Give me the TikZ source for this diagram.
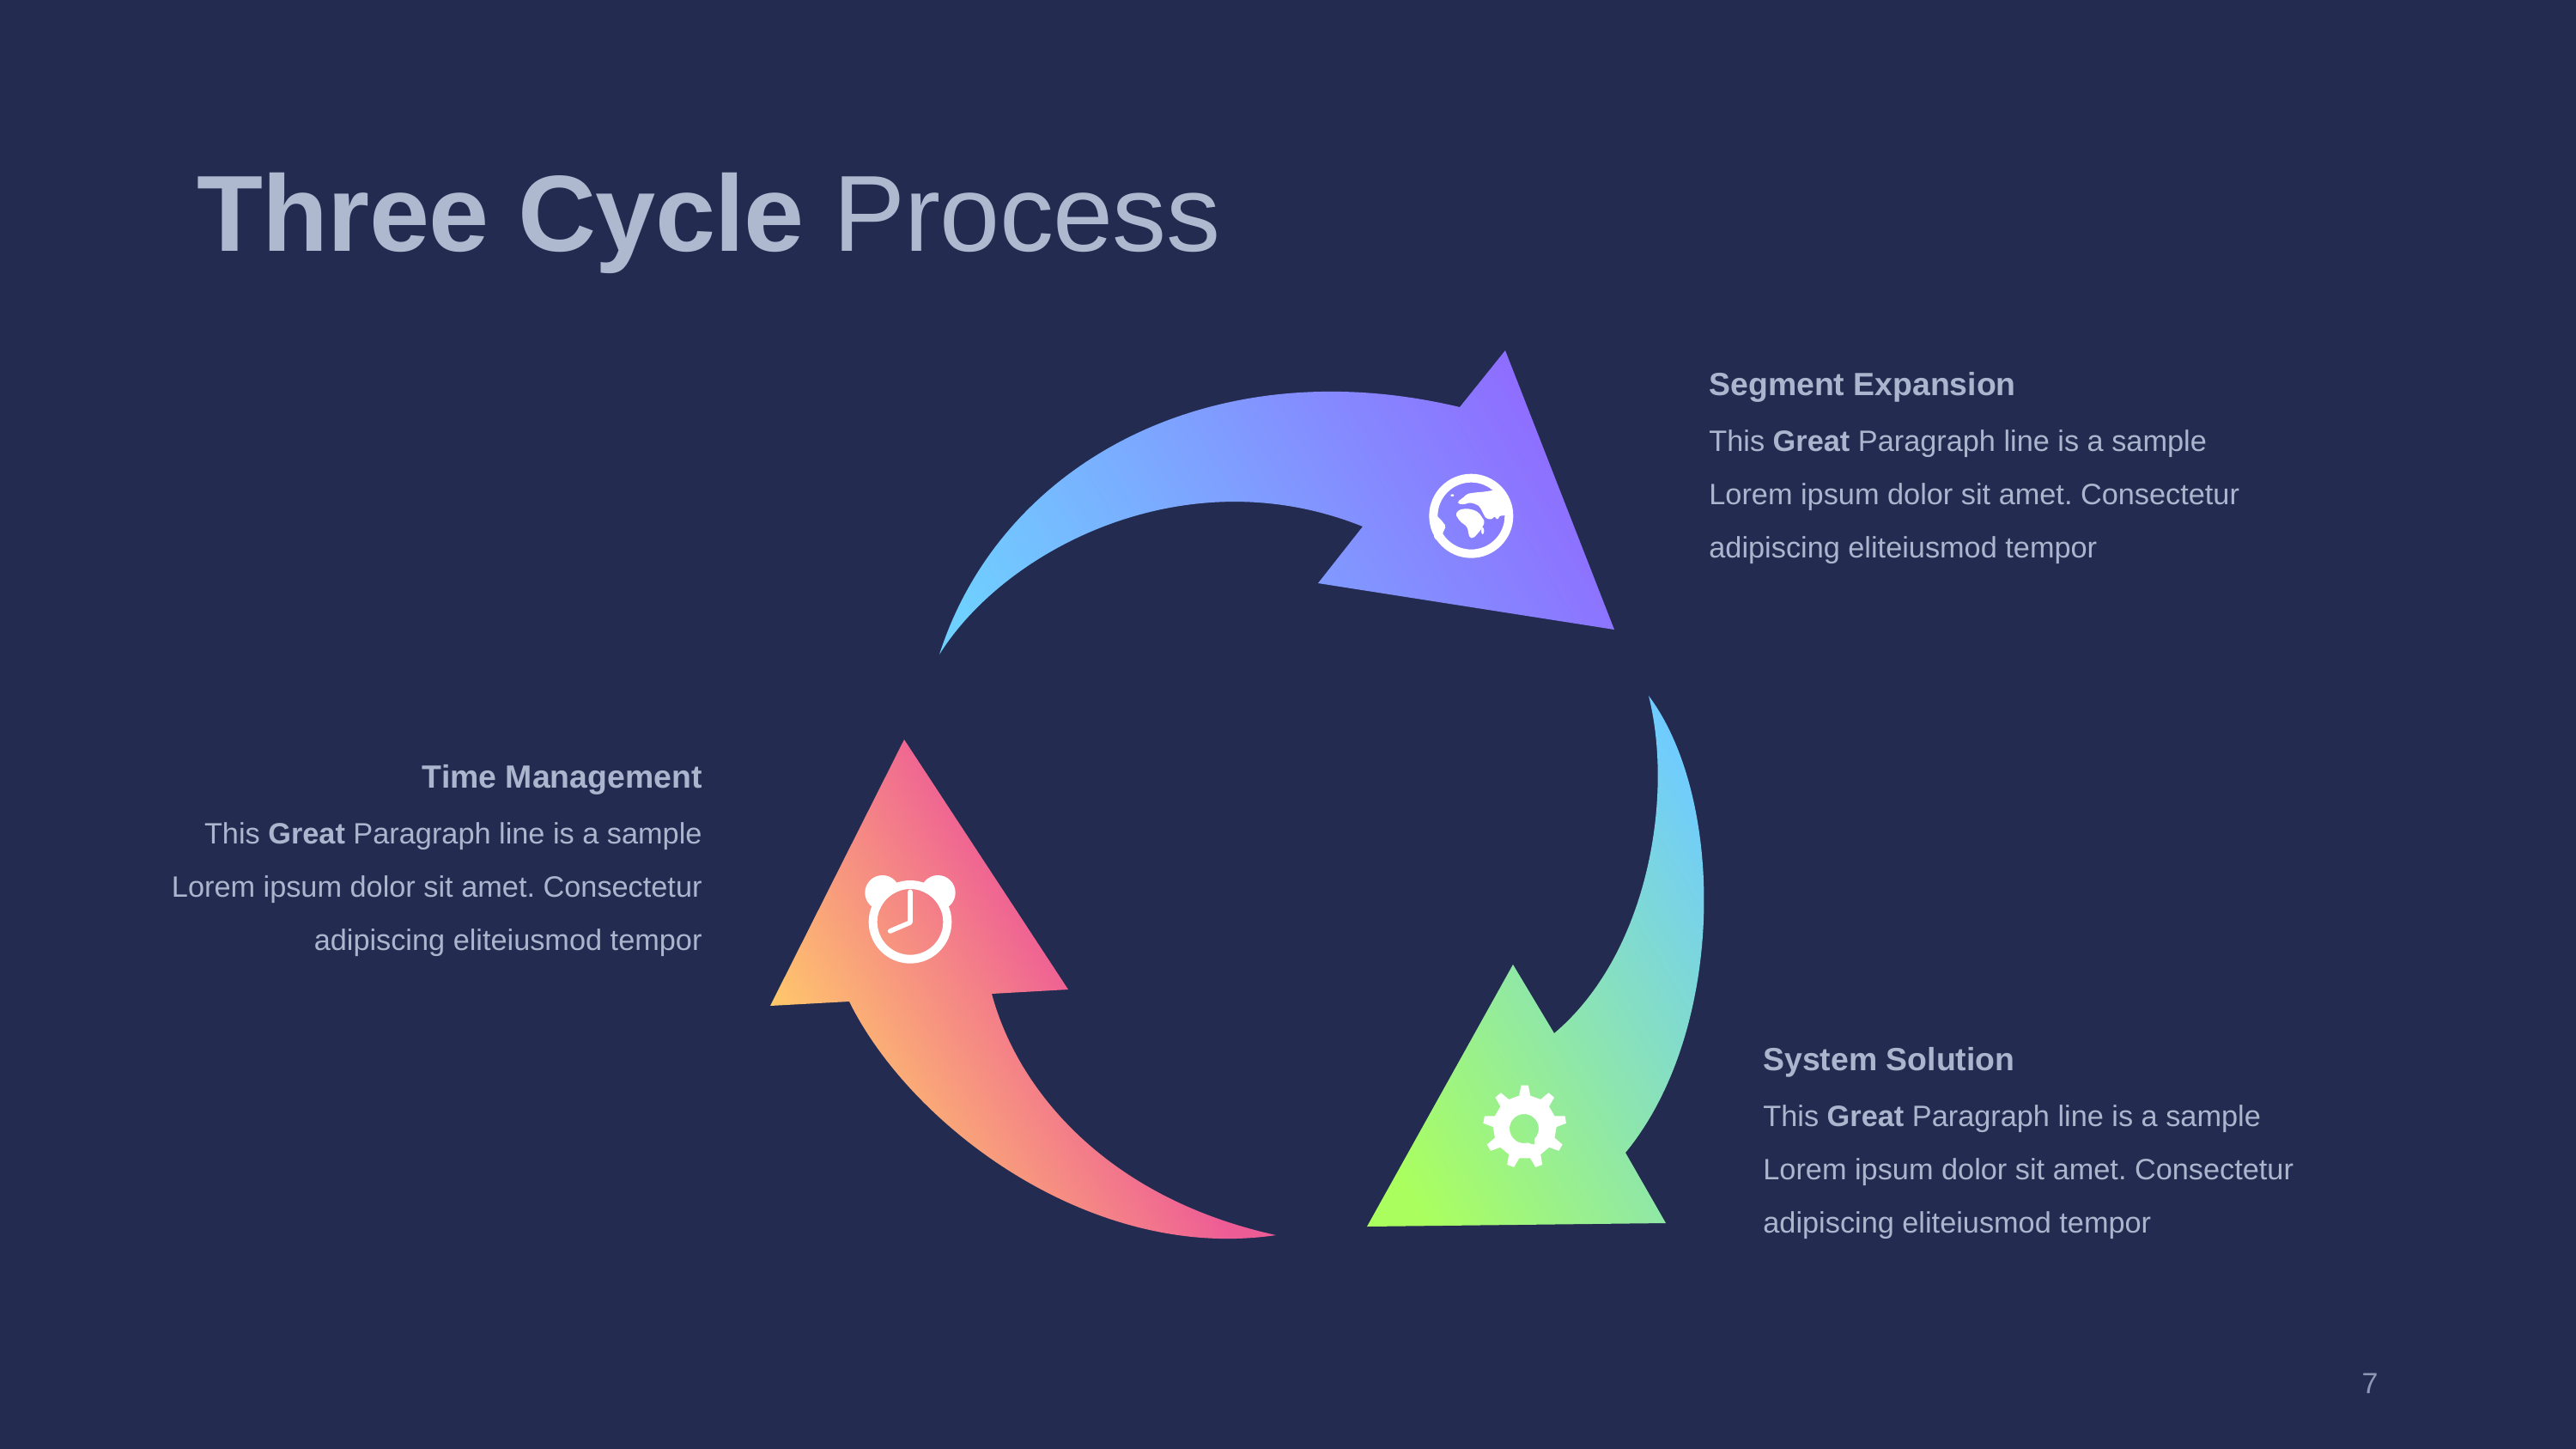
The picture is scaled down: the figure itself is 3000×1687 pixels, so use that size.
\documentclass[tikz,border=0pt]{standalone}
\usepackage{fontspec}
\setmainfont{Liberation Sans}
\frenchspacing
\definecolor{bgnavy}{HTML}{232C50}
\definecolor{txtmain}{HTML}{ABB6CE}
\definecolor{txttitle}{HTML}{AEB9D0}
\definecolor{txtpage}{HTML}{8D98B6}
\definecolor{blueA}{HTML}{6FD0FF}
\definecolor{blueB}{HTML}{8E6EFF}
\definecolor{greenA}{HTML}{AAFF5F}
\definecolor{greenB}{HTML}{6FCBFF}
\definecolor{pinkA}{HTML}{FFC96B}
\definecolor{pinkB}{HTML}{EE5C96}
\pgfdeclarehorizontalshading{gradblue}{1500pt}{color(0pt)=(blueA); color(559pt)=(blueA); color(904pt)=(blueB); color(1500pt)=(blueB)}
\pgfdeclarehorizontalshading{gradgreen}{1500pt}{color(0pt)=(greenA); color(618pt)=(greenA); color(885pt)=(greenB); color(1500pt)=(greenB)}
\pgfdeclarehorizontalshading{gradpink}{1500pt}{color(0pt)=(pinkA); color(618pt)=(pinkA); color(782pt)=(pinkB); color(1500pt)=(pinkB)}
\tikzset{
  grad/.style={inner sep=0pt,outer sep=0pt,rotate=30.6,anchor=center},
  head/.style={inner sep=0pt,text=txtmain,font=\bfseries\fontsize{18.7}{22}\selectfont},
  body/.style={inner sep=0pt,text=txtmain,font=\fontsize{17.15}{21}\selectfont},
  ink/.style={fill=white,draw=none},
}
\begin{document}
\begin{tikzpicture}[x=0.5pt,y=-0.5pt]
\useasboundingbox (0,0) rectangle (3000,1687);
\fill[bgnavy] (0,0) rectangle (3000,1687);

% title
\node[anchor=base west,inner sep=0pt,text=txttitle,font=\fontsize{63}{70}\selectfont\addfontfeature{LetterSpace=-0.6}] (title) at (229,292) {\textbf{Three Cycle} Process};
\node[anchor=base,inner sep=0pt,text=txtpage,font=\fontsize{17}{20}\selectfont] (page) at (2760,1622) {7};

% blue arrow
\begin{scope}
\clip (1094,762) .. controls (1165,540) and (1410,405) .. (1700,474)
  -- (1753,408) -- (1880,733) -- (1535,679) -- (1587,613)
  .. controls (1380,530) and (1170,640) .. (1094,762) -- cycle;
\node[grad] (shadeblue) at (1487,585) {\pgfuseshading{gradblue}};
\end{scope}

% green arrow
\begin{scope}
\clip (1920,810) .. controls (2010,930) and (2010,1200) .. (1893,1342)
  -- (1940,1424) -- (1592,1428) -- (1762,1123) -- (1810,1203)
  .. controls (1918,1112) and (1950,930) .. (1920,810) -- cycle;
\node[grad] (shadegreen) at (1790,1120) {\pgfuseshading{gradgreen}};
\end{scope}

% pink arrow
\begin{scope}
\clip (989,1166) .. controls (1060,1310) and (1270,1470) .. (1486,1438)
  .. controls (1290,1395) and (1185,1270) .. (1155,1157)
  -- (1244,1152) -- (1053,861) -- (897,1171) -- cycle;
\node[grad] (shadepink) at (1190,1150) {\pgfuseshading{gradpink}};
\end{scope}

% globe icon
\begin{scope}[shift={(1640,530)},scale=1/3]
\fill[ink,even odd rule] (220,212) circle[radius=147] (220,212) circle[radius=117];
\fill[ink,rounded corners=1pt] (172,162) -- (190,150) -- (205,135) -- (235,130) -- (262,128) -- (300,122) -- (330,150) -- (345,200) -- (335,214) -- (322,208) -- (312,226) -- (300,212) -- (296,224) -- (272,222) -- (256,192) -- (250,180) -- (240,172) -- (215,165) -- (195,172) -- (175,170) -- cycle;
\fill[ink,rounded corners=1pt] (165,206) -- (178,190) -- (205,186) -- (232,192) -- (248,202) -- (268,232) -- (256,258) -- (228,290) -- (214,288) -- (206,250) -- (180,230) -- cycle;
\fill[ink] (260,264) ellipse[x radius=5,y radius=12];
\fill[ink] (154,140) ellipse[x radius=6,y radius=4];
\fill[ink,rounded corners=1pt] (90,205) -- (112,222) -- (132,248) -- (124,264) -- (110,302) -- (90,290) -- cycle;
\end{scope}

% gear icon
\begin{scope}[shift={(1775.7,1312)}]
\fill[ink,even odd rule]
  (-100:37) \foreach \a in {-90,-50,-10,30,70,110,150,190,230}{ -- (\a-10:37) -- (\a-5:48.5) -- (\a+5:48.5) -- (\a+10:37) } -- cycle
  (-0.7,2) ++(75:17) arc[start angle=75,end angle=405,radius=17] -- (11.5,20.5) -- (8,20) -- cycle;
\end{scope}

% clock icon
\begin{scope}[shift={(990,1000)},scale=1/3]
\begin{scope}[even odd rule]
\clip (0,0) rectangle (420,420) (210,220) circle[radius=115];
\fill[ink] (113,118) circle[radius=61];
\fill[ink] (307,118) circle[radius=61];
\end{scope}
\fill[ink,even odd rule] (210,220) circle[radius=145] (210,220) circle[radius=115];
\draw[white,line width=2.8pt,line cap=round,line join=round] (210,115) -- (210,222) -- (140,252);
\end{scope}

% texts: Segment Expansion
\node[head,anchor=base west] (h1) at (1990,460) {Segment Expansion};
\node[body,anchor=base west] (a1) at (1990,525) {This \textbf{Great} Paragraph line is a sample};
\node[body,anchor=base west] (a2) at (1990,587) {Lorem ipsum dolor sit amet. Consectetur};
\node[body,anchor=base west] (a3) at (1990,649) {adipiscing eliteiusmod tempor};
% System Solution
\node[head,anchor=base west] (h2) at (2053,1246) {System Solution};
\node[body,anchor=base west] (b1) at (2053,1311) {This \textbf{Great} Paragraph line is a sample};
\node[body,anchor=base west] (b2) at (2053,1373) {Lorem ipsum dolor sit amet. Consectetur};
\node[body,anchor=base west] (b3) at (2053,1435) {adipiscing eliteiusmod tempor};
% Time Management
\node[head,anchor=base east] (h3) at (818,917) {Time Management};
\node[body,anchor=base east] (c1) at (818,982) {This \textbf{Great} Paragraph line is a sample};
\node[body,anchor=base east] (c2) at (818,1044) {Lorem ipsum dolor sit amet. Consectetur};
\node[body,anchor=base east] (c3) at (818,1106) {adipiscing eliteiusmod tempor};
\end{tikzpicture}
\end{document}
